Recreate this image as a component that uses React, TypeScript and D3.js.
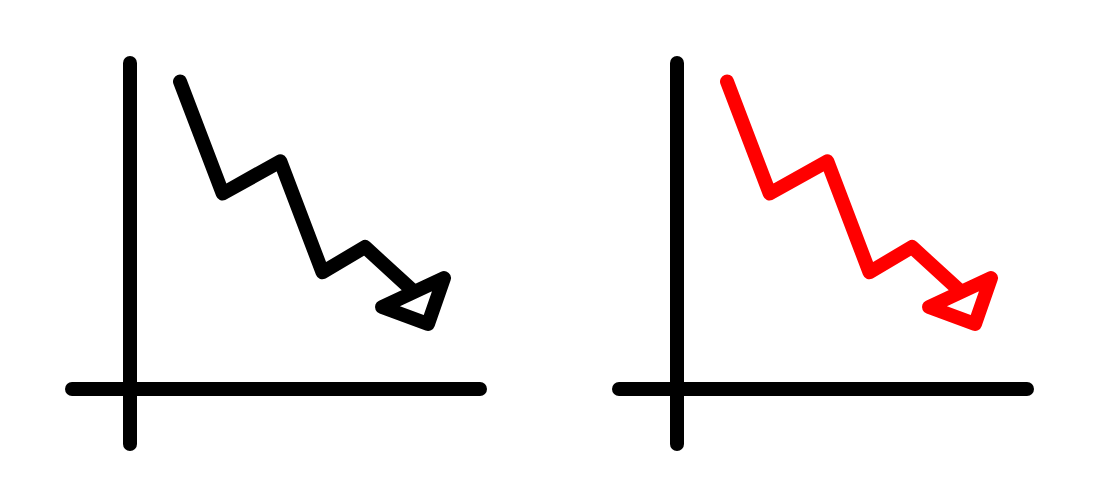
import React from 'react';
import * as d3 from 'd3';

// values measured from the axis crossing
const xValues = [50, 92.7, 150.3, 192.5, 235, 282];
const yValues = [307.5, 195.5, 227.7, 116.7, 142, 99];
const arrowX = [314, 298, 252];
const arrowY = [111, 65, 82];
const xExtent = [-58, 350];
const yExtent = [-55, 326];
const panelOrigins = [130, 677];
const panelColors = ['#000000', '#ff0000'];

const yScale = d3.scaleLinear().domain(yExtent).range([444, 63]);

const Panel: React.FC<{ origin: number; color: string }> = ({ origin, color }) => {
  const xScale = d3.scaleLinear().domain([0, 350]).range([origin, origin + 350]);

  const trend = d3.line<number>()
    .x(d => xScale(d))
    .y((_, i) => yScale(yValues[i]));

  const arrow = d3.line<number>()
    .x(d => xScale(d))
    .y((_, i) => yScale(arrowY[i]))
    .curve(d3.curveLinearClosed);

  const common = { fill: 'none', strokeWidth: 14, strokeLinecap: 'round' as const, strokeLinejoin: 'round' as const };

  return (
    <g>
      <line {...common} stroke="#000" x1={xScale(0)} x2={xScale(0)} y1={yScale(yExtent[0])} y2={yScale(yExtent[1])} />
      <line {...common} stroke="#000" x1={xScale(xExtent[0])} x2={xScale(xExtent[1])} y1={yScale(0)} y2={yScale(0)} />
      <path {...common} stroke={color} d={trend(xValues) ?? ''} />
      <path {...common} stroke={color} d={arrow(arrowX) ?? ''} />
    </g>
  );
};

export default function App() {
  return (
    <svg width={1105} height={500} style={{ position: 'absolute', left: 0, top: 0 }}>
      <rect width={1105} height={500} fill="#fff" />
      {panelOrigins.map((origin, i) => (
        <Panel key={origin} origin={origin} color={panelColors[i]} />
      ))}
    </svg>
  );
}
